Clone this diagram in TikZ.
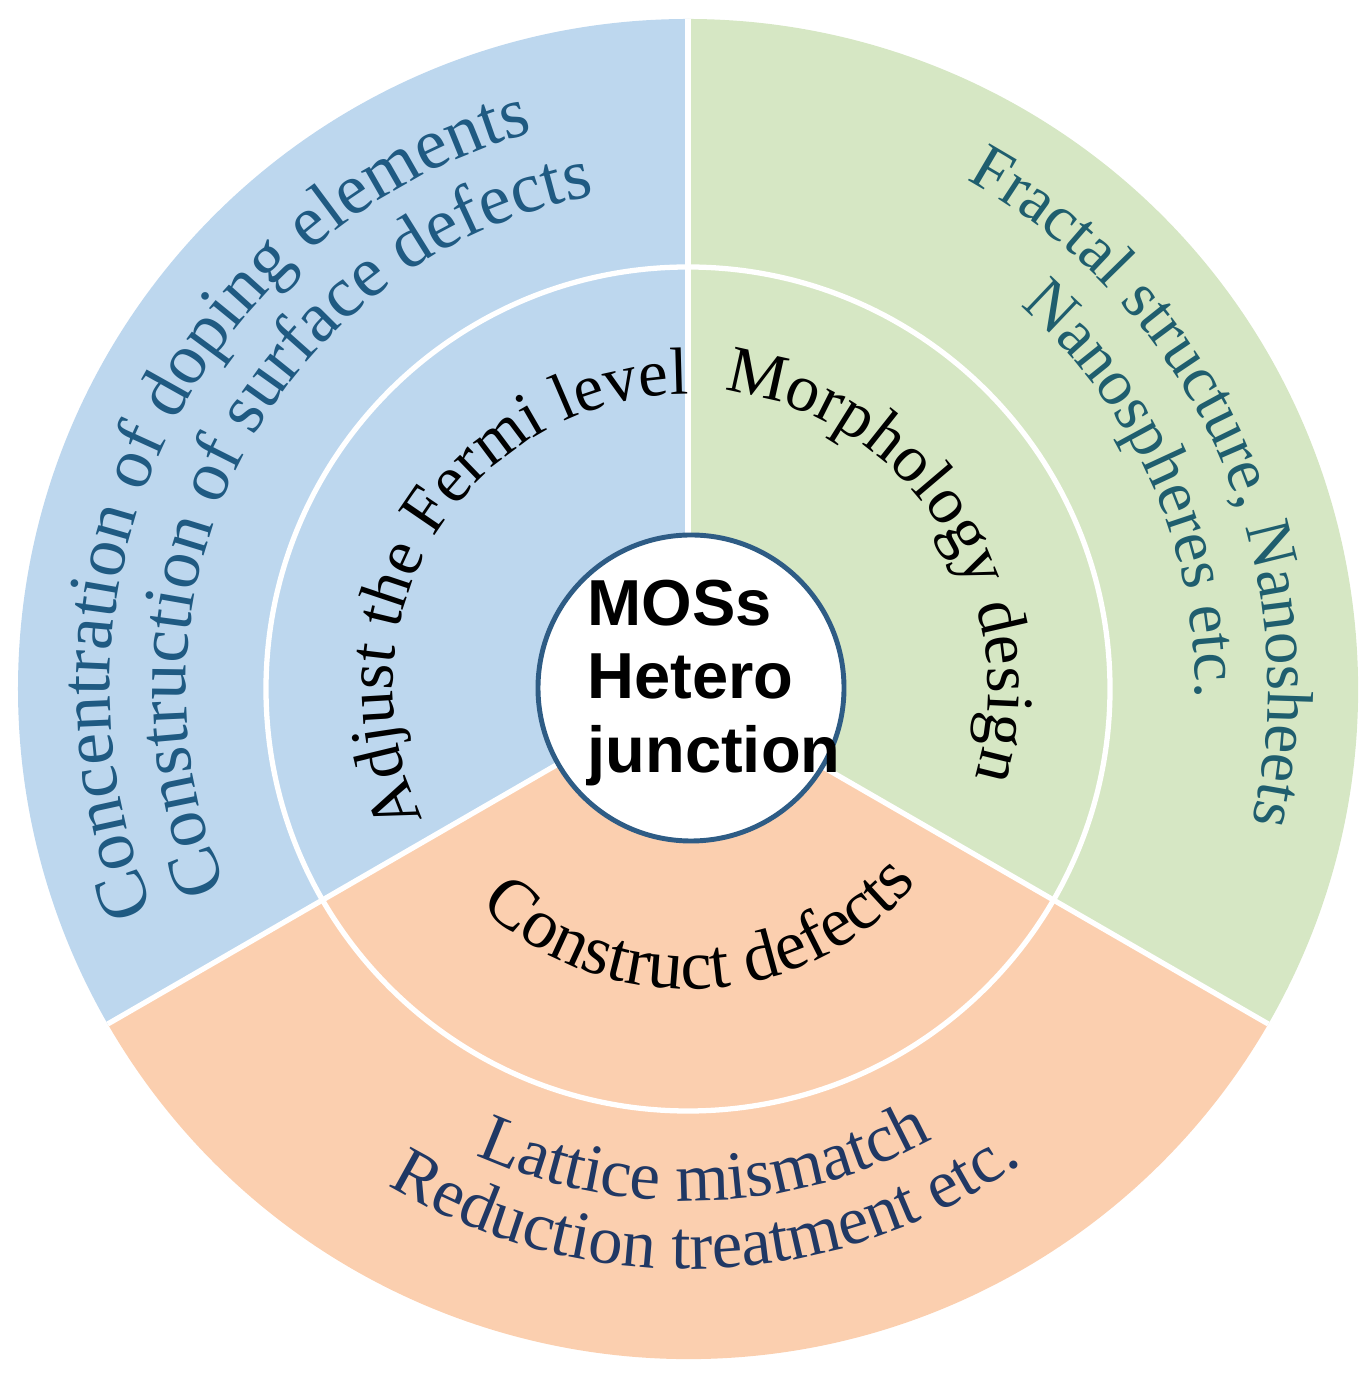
\documentclass[tikz,border=0pt]{standalone}
\usepackage{fontspec}
\setmainfont{Liberation Serif}
\newfontfamily\hsans{Liberation Sans}
\usetikzlibrary{decorations.text}
\definecolor{cblue}{HTML}{BDD7EE}
\definecolor{cgreen}{HTML}{D6E7C4}
\definecolor{corange}{HTML}{FBCFAF}
\definecolor{tblue}{HTML}{1F5A82}
\definecolor{tgreen}{HTML}{1F5E6E}
\definecolor{tnavy}{HTML}{203864}
\definecolor{ring}{HTML}{2E5C85}
\tikzset{
  arctext/.style={decorate, decoration={text along path, text align=center, text={#1}}},
  divider/.style={white, line width=1.5pt}
}
\begin{document}
\begin{tikzpicture}
\useasboundingbox (-6.88,-6.89) rectangle (6.80,6.89);
\def\R{6.70}
\def\Rm{4.22}
% sectors
\fill[cblue] (0,0) -- (90:\R) arc[start angle=90,end angle=210,radius=\R] -- cycle;
\fill[corange] (0,0) -- (210:\R) arc[start angle=210,end angle=330,radius=\R] -- cycle;
\fill[cgreen] (0,0) -- (-30:\R) arc[start angle=-30,end angle=90,radius=\R] -- cycle;
\draw[divider] (0,0) -- (90:\R);
\draw[divider] (0,0) -- (210:\R);
\draw[divider] (0,0) -- (-30:\R);
\draw[divider] (0,0) circle[radius=\Rm];
% outer blue texts
\path[arctext={|\fontsize{20.5}{20.5}\selectfont\color{tblue}|Concentration of doping elements}]
  (214:5.78) arc[start angle=214,end angle=94,radius=5.78];
\path[arctext={|\fontsize{20.5}{20.5}\selectfont\color{tblue}|Construction of surface defects}]
  (212:5.02) arc[start angle=212,end angle=92,radius=5.02];
% outer green texts
\path[arctext={|\fontsize{18.5}{18.5}\selectfont\color{tgreen}|Fractal structure{,} Nanosheets}]
  (84:5.8) arc[start angle=84,end angle=-36,radius=5.8];
\path[arctext={|\fontsize{18.5}{18.5}\selectfont\color{tgreen}|Nanospheres etc.}]
  (84:5.07) arc[start angle=84,end angle=-36,radius=5.07];
% outer orange texts
\path[arctext={|\fontsize{19.5}{19.5}\selectfont\color{tnavy}|Lattice mismatch}]
  (212:5.12) arc[start angle=212,end angle=332,radius=5.12];
\path[arctext={|\fontsize{19.5}{19.5}\selectfont\color{tnavy}|Reduction treatment etc.}]
  (212:5.8) arc[start angle=212,end angle=332,radius=5.8];
% inner texts
\path[arctext={|\fontsize{19}{19}\selectfont|Adjust the Fermi level}]
  (208:2.95) arc[start angle=208,end angle=88,radius=2.95];
\path[arctext={|\fontsize{19}{19}\selectfont|Morphology design}]
  (93:3.0) arc[start angle=93,end angle=-27,radius=3.0];
\path[arctext={|\fontsize{20}{20}\selectfont|Construct defects}]
  (213:3.0) arc[start angle=213,end angle=333,radius=3.0];
% center
\node[circle, fill=white, draw=ring, line width=1.4pt, minimum size=3.06cm, inner sep=0pt] (core) at (0.03,0.01) {};
\node[align=left, font=\hsans\bfseries\fontsize{18.5}{21}\selectfont, inner sep=0pt] (coretext) at (0.26,0.06) {MOSs\\Hetero\\junction};
\end{tikzpicture}
\end{document}
